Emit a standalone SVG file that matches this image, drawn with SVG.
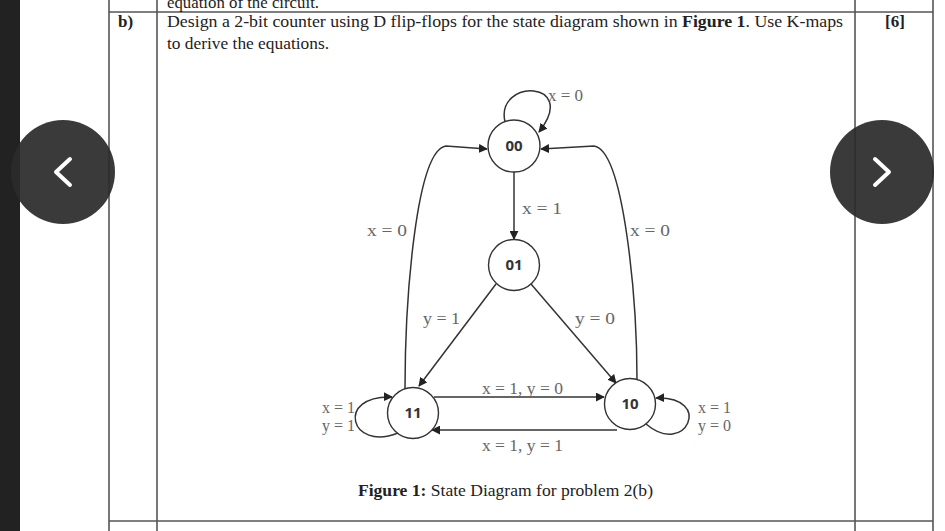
<svg xmlns="http://www.w3.org/2000/svg" width="945" height="531" viewBox="0 0 945 531">
<defs>
<marker id="arr" viewBox="0 0 10 10" refX="9" refY="5" markerWidth="9" markerHeight="9" markerUnits="userSpaceOnUse" orient="auto">
<path d="M0,0 L10,5 L0,10 z" fill="#222"/>
</marker>
<style>
.tbl{stroke:#555;stroke-width:1.6;fill:none}
.hd{font-family:"Liberation Serif",serif;font-size:17px;fill:#222}
.b{font-weight:bold}
.lbl{font-family:"Liberation Serif",serif;font-size:17px;fill:#666}
.node circle{fill:#fff;stroke:#333;stroke-width:1.4}
.node text{font-family:"Open Sans","DejaVu Sans",sans-serif;font-weight:bold;font-size:15px;fill:#333;text-anchor:middle}
.edge{fill:none;stroke:#333;stroke-width:1.5;marker-end:url(#arr)}
.btn{fill:#2b2b2b;fill-opacity:0.93}
.chev{fill:none;stroke:#fff;stroke-width:4;stroke-linecap:round;stroke-linejoin:round}
</style>
</defs>
<rect x="0" y="0" width="945" height="531" fill="#fff"/>
<rect x="0" y="0" width="20" height="531" fill="#222"/>

<g id="table">
<line class="tbl" x1="109" y1="0" x2="109" y2="531"/>
<line class="tbl" x1="157" y1="0" x2="157" y2="531"/>
<line class="tbl" x1="855" y1="0" x2="855" y2="531"/>
<line class="tbl" x1="933" y1="0" x2="933" y2="531"/>
<line class="tbl" x1="109" y1="12" x2="933" y2="12"/>
<line class="tbl" x1="109" y1="521" x2="933" y2="521"/>
</g>

<g id="header">
<text class="hd" x="167" y="8" textLength="152" lengthAdjust="spacingAndGlyphs">equation of the circuit.</text>
<text class="hd b" x="118" y="27">b)</text>
<text class="hd" x="167" y="27" textLength="676" lengthAdjust="spacingAndGlyphs">Design a 2-bit counter using D flip-flops for the state diagram shown in <tspan class="b">Figure 1</tspan>. Use K-maps</text>
<text class="hd" x="167" y="49" textLength="162" lengthAdjust="spacingAndGlyphs">to derive the equations.</text>
<text class="hd b" x="885" y="27">[6]</text>
</g>

<g id="connectors">
<path class="edge" d="M505,122 C495,78 580,80 539,132"/>
<path class="edge" d="M514,172 L514,239"/>
<path class="edge" d="M405,389 C405,300 416,150 446,146 L487,149"/>
<path class="edge" d="M637,380 C637,300 624,150 594,146 L541,149"/>
<path class="edge" d="M496,284 L419,386"/>
<path class="edge" d="M531,284 L616,383"/>
<path class="edge" d="M434,397 L604,397"/>
<path class="edge" d="M617,430 L432,430"/>
<path class="edge" d="M398,433 C350,452 335,395 392,397"/>
<path class="edge" d="M646,424 C686,458 714,396 656,398"/>
</g>

<g id="labels">
<text class="lbl" x="548" y="101" textLength="35" lengthAdjust="spacingAndGlyphs">x = 0</text>
<text class="lbl" x="522" y="214" textLength="40" lengthAdjust="spacingAndGlyphs">x = 1</text>
<text class="lbl" x="367" y="236" textLength="40" lengthAdjust="spacingAndGlyphs">x = 0</text>
<text class="lbl" x="630" y="236" textLength="40" lengthAdjust="spacingAndGlyphs">x = 0</text>
<text class="lbl" x="423" y="324" textLength="37" lengthAdjust="spacingAndGlyphs">y = 1</text>
<text class="lbl" x="575" y="324" textLength="40" lengthAdjust="spacingAndGlyphs">y = 0</text>
<text class="lbl" x="482" y="394" textLength="81" lengthAdjust="spacingAndGlyphs">x = 1, y = 0</text>
<text class="lbl" x="482" y="451" textLength="81" lengthAdjust="spacingAndGlyphs">x = 1, y = 1</text>
<text class="lbl" x="322" y="413" textLength="33" lengthAdjust="spacingAndGlyphs">x = 1</text>
<text class="lbl" x="322" y="431" textLength="33" lengthAdjust="spacingAndGlyphs">y = 1</text>
<text class="lbl" x="698" y="413" textLength="33" lengthAdjust="spacingAndGlyphs">x = 1</text>
<text class="lbl" x="698" y="431" textLength="33" lengthAdjust="spacingAndGlyphs">y = 0</text>
</g>

<g id="node-00" class="node"><circle cx="514" cy="146" r="26"/><text x="514" y="151">00</text></g>
<g id="node-01" class="node"><circle cx="514" cy="265" r="25.5"/><text x="514" y="270">01</text></g>
<g id="node-11" class="node"><circle cx="413" cy="413" r="25.5"/><text x="413" y="418">11</text></g>
<g id="node-10" class="node"><circle cx="630" cy="404" r="25.5"/><text x="630" y="409">10</text></g>

<text class="hd" x="358" y="496" textLength="295" lengthAdjust="spacingAndGlyphs"><tspan class="b">Figure 1:</tspan> State Diagram for problem 2(b)</text>

<g id="nav">
<circle class="btn" cx="63" cy="172" r="52"/>
<path class="chev" d="M70,159 L56,172 L70,185"/>
<circle class="btn" cx="882" cy="172" r="52"/>
<path class="chev" d="M875,159 L889,172 L875,185"/>
</g>
</svg>
